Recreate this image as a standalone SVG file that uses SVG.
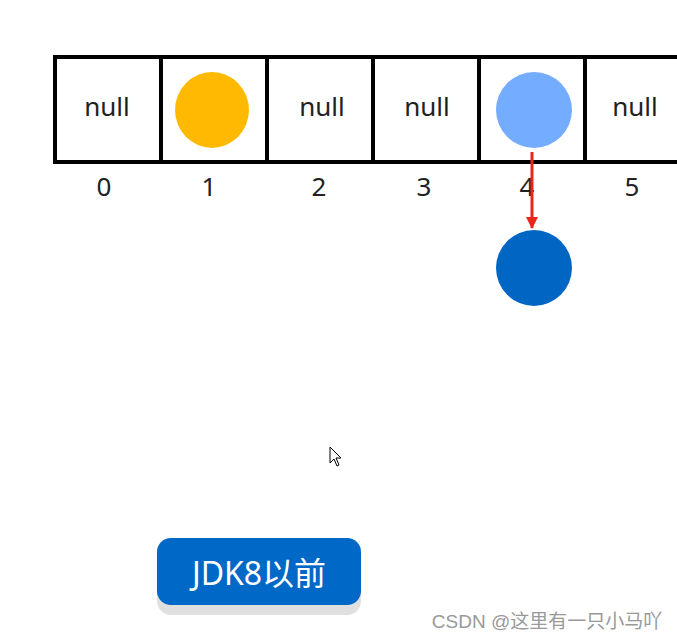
<svg xmlns="http://www.w3.org/2000/svg" width="677" height="640" viewBox="0 0 677 640">
<style>
.t{font-family:"Noto Sans","Open Sans","Liberation Sans",sans-serif;font-size:26px;fill:#222;text-anchor:middle}
.c{stroke:#000;stroke-width:4;fill:none}
</style>
<defs><marker id="a2" markerWidth="12" markerHeight="12" refX="11" refY="6" orient="auto" markerUnits="userSpaceOnUse"><path d="M0,0 L12,6 L0,12Z" fill="#e8261b"/></marker></defs>
<rect width="677" height="640" fill="#fff"/>
<g id="array">
<path class="c" d="M677,57 H55 V162 H677 M161,57 V162 M267,57 V162 M373,57 V162 M479,57 V162 M585,57 V162"/>
<text class="t" x="107" y="116">null</text>
<text class="t" x="322" y="116">null</text>
<text class="t" x="427" y="116">null</text>
<text class="t" x="635" y="116">null</text>
<text class="t" x="104" y="196">0</text>
<text class="t" x="209" y="196">1</text>
<text class="t" x="319" y="196">2</text>
<text class="t" x="424" y="196">3</text>
<text class="t" x="527" y="196">4</text>
<text class="t" x="632" y="196">5</text>
</g>
<g id="node1"><ellipse cx="212" cy="110" rx="37" ry="38" fill="#ffba00"/></g>
<g id="node4"><ellipse cx="534" cy="110" rx="38" ry="38" fill="#74adff"/></g>
<g id="node4b"><ellipse cx="534" cy="268" rx="38" ry="38" fill="#0066c4"/></g>
<g id="connectors"><line x1="532" y1="152" x2="532" y2="228" stroke="#e8261b" stroke-width="3" marker-end="url(#a2)"/></g>
<g id="cursor"><path d="M330,447 V463 L334,459 L337,466 L339,465 L336,458 L341,458 Z" fill="#fff" stroke="#000" stroke-width="1"/></g>
<g id="button">
<rect x="157" y="548" width="204" height="67" rx="14" fill="#e0e0e0"/>
<rect x="157" y="538" width="204" height="67" rx="14" fill="#0068c6"/>
<text x="259" y="585" style="font-family:'Noto Sans','Noto Sans CJK SC',sans-serif;font-size:32px;fill:#fff;text-anchor:middle">JDK8以前</text>
</g>
<text x="547" y="628" style="font-family:'Liberation Sans','Noto Sans CJK SC',sans-serif;font-size:19px;fill:#999;text-anchor:middle">CSDN @这里有一只小马吖</text>
</svg>
